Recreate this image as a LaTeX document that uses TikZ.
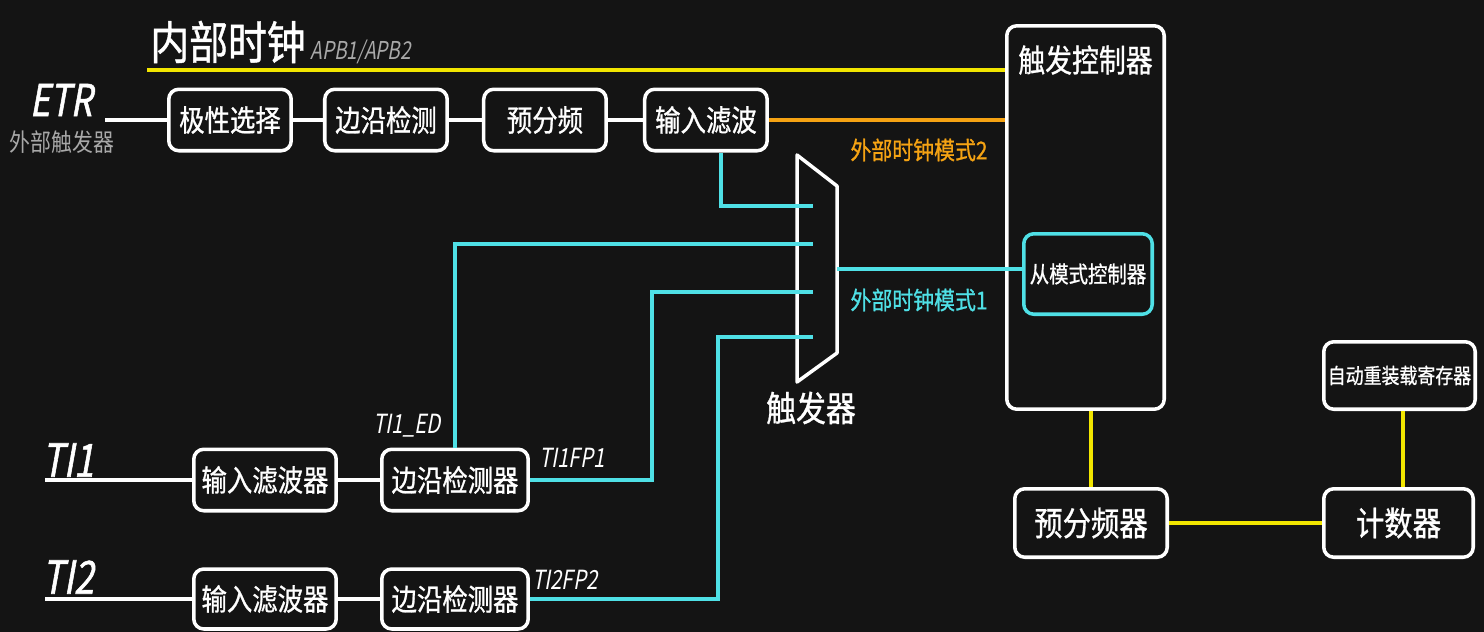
\documentclass[tikz,border=0pt]{standalone}
\usepackage{fontspec}
\newfontfamily\cjk[FakeStretch=0.85,FakeBold=0.9]{Noto Sans CJK SC}
\newfontfamily\cjkthin[FakeStretch=0.85]{Noto Sans CJK SC}
\newfontfamily\cjkit[FakeStretch=0.78,FakeSlant=0.18]{Noto Sans CJK SC}
\newfontfamily\cjkitbold[FakeStretch=0.78,FakeSlant=0.18,FakeBold=1.2]{Noto Sans CJK SC}
\usetikzlibrary{positioning}
\definecolor{bg}{HTML}{141414}
\definecolor{clkyellow}{HTML}{F2E600}
\definecolor{clkorange}{HTML}{F5A313}
\definecolor{clkcyan}{HTML}{4FE0E6}
\definecolor{dimgray}{HTML}{A8A8A8}
\tikzset{
  every node/.style={text=white, font=\cjk, inner sep=0pt},
  block/.style={draw=white, line width=2pt, rounded corners=0.2cm, minimum height=1.23cm,
    font=\cjk\fontsize{17}{17}\selectfont},
  wire/.style={draw=white, line width=2pt},
  cyanwire/.style={draw=clkcyan, line width=2pt},
  yellowwire/.style={draw=clkyellow, line width=2pt}
}

\begin{document}
\begin{tikzpicture}[x=0.02cm, y=-0.02cm]
  \path[use as bounding box, fill=bg] (0,0) rectangle (1484,632);

  % Nodes
  \node (intclk) at (228,42) {\fontsize{26}{26}\selectfont 内部时钟};
  \node (apb) [anchor=base west, xshift=0.08cm, text=dimgray] at (intclk.base east) {\cjkit\fontsize{14}{14}\selectfont APB1/APB2};
  \node (etr) at (61,100) {\cjkitbold\fontsize{25}{25}\selectfont ETR};
  \node (etrsub) at (62,142) [text=dimgray] {\cjkthin\fontsize{14}{14}\selectfont 外部触发器};
  \coordinate (etr-in) at (105,120);
  \coordinate (int-in) at (147,70);

  \node (pol) [block, minimum width=2.45cm] at (230,120) {极性选择};
  \node (edg) [block, minimum width=2.45cm, right=0.6cm of pol] {边沿检测};
  \node (psc) [block, minimum width=2.45cm, right=0.66cm of edg] {预分频};
  \node (flt) [block, minimum width=2.45cm, right=0.7cm of psc] {输入滤波};

  \node (trig) [block, minimum width=3.15cm, minimum height=7.67cm] at (1085.5,217.5) {};
  \node (trigtitle) [below=0.42cm of trig.north] {\fontsize{18}{18}\selectfont 触发控制器};
  \node (slave) [block, draw=clkcyan, minimum width=2.57cm, minimum height=1.61cm,
    font=\cjk\fontsize{13}{13}\selectfont] at (1088,274) {从模式控制器};

  \node (mode2) [text=clkorange] at (919,150) {\fontsize{14}{14}\selectfont 外部时钟模式2};
  \node (mode1) [text=clkcyan] at (919,300) {\fontsize{14}{14}\selectfont 外部时钟模式1};

  % trigger selector
  \draw[wire, line join=round] (797,155) -- (837,186) -- (837,353) -- (797,382) -- cycle;
  \coordinate (mux-in1) at (813,206);
  \coordinate (mux-in2) at (813,244);
  \coordinate (mux-in3) at (813,292);
  \coordinate (mux-in4) at (813,337);
  \coordinate (mux-out) at (837,269);
  \node (muxlabel) at (811,408) {\fontsize{20}{20}\selectfont 触发器};

  \node (ti1) at (68,460) {\cjkitbold\fontsize{26}{26}\selectfont TI1};
  \node (ti2) at (68,577) {\cjkitbold\fontsize{26}{26}\selectfont TI2};
  \coordinate (ti1-in) at (45,480);
  \coordinate (ti2-in) at (45,599);
  \node (f1) [block, minimum width=2.85cm] at (265,480) {输入滤波器};
  \node (ed1) [block, minimum width=2.93cm] at (455,480) {边沿检测器};
  \node (f2) [block, minimum width=2.85cm, minimum height=1.2cm] at (265,599) {输入滤波器};
  \node (ed2) [block, minimum width=2.93cm, minimum height=1.2cm] at (455,599) {边沿检测器};
  \node (ti1ed) at (407,426) {\cjkit\fontsize{15}{15}\selectfont TI1\_ED};
  \node (ti1fp1) at (572,458) {\cjkit\fontsize{15}{15}\selectfont TI1FP1};
  \node (ti2fp2) at (565,580) {\cjkit\fontsize{15}{15}\selectfont TI2FP2};
  \coordinate (bend3) at (652,292);
  \coordinate (bend4) at (718,337);

  \node (psc2) [block, minimum width=3.05cm, minimum height=1.37cm, font=\cjk\fontsize{19}{19}\selectfont] at (1091,523) {预分频器};
  \node (cnt) [block, minimum width=2.99cm, minimum height=1.37cm, font=\cjk\fontsize{19}{19}\selectfont] at (1398.5,523) {计数器};
  \node (arr) [block, minimum width=3.03cm, minimum height=1.35cm, font=\cjk\fontsize{12}{12}\selectfont] at (1399.5,375.5) {自动重装载寄存器};

  % connections
  \draw[yellowwire] (int-in) -- (int-in -| trig.west);
  \draw[wire] (etr-in) -- (pol);
  \draw[wire] (pol) -- (edg);
  \draw[wire] (edg) -- (psc);
  \draw[wire] (psc) -- (flt);
  \draw[clkorange, line width=2pt] (flt.east) -- (flt.east -| trig.west);
  \draw[cyanwire] ([xshift=0.3cm]flt.south) |- (mux-in1);
  \draw[cyanwire] (ed1.north) |- (mux-in2);
  \draw[cyanwire] (ed1.east) -| (bend3) -- (mux-in3);
  \draw[cyanwire] (ed2.east) -| (bend4) -- (mux-in4);
  \draw[cyanwire] (mux-out) -- (mux-out -| slave.west);
  \draw[wire] (ti1-in) -- (f1);
  \draw[wire] (f1) -- (ed1);
  \draw[wire] (ti2-in) -- (f2);
  \draw[wire] (f2) -- (ed2);
  \draw[yellowwire] (psc2.north |- trig.south) -- (psc2.north);
  \draw[yellowwire] (psc2) -- (cnt);
  \draw[yellowwire] (arr.south -| 1403,0) -- (cnt.north -| 1403,0);
\end{tikzpicture}
\end{document}
